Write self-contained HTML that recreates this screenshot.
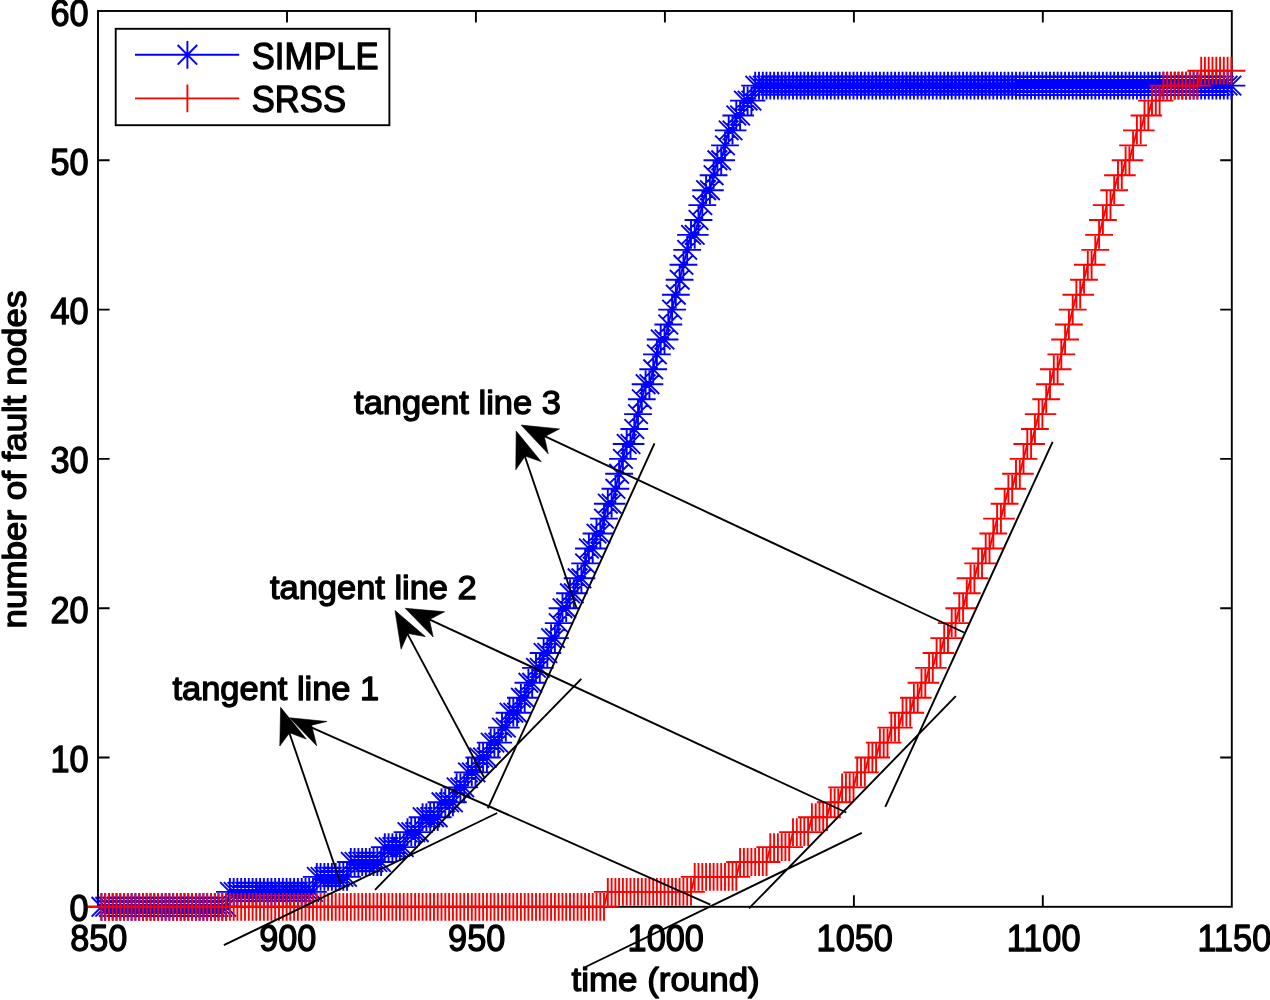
<!DOCTYPE html>
<html lang="en"><head><meta charset="utf-8"><title>number of fault nodes vs time (round)</title>
<style>html,body{margin:0;padding:0;background:#fff}body{width:1270px;height:1000px;overflow:hidden}svg{display:block}text{font-family:"Liberation Sans",sans-serif;font-size:36.6px;fill:#000;stroke:#000;stroke-width:1.3;stroke-linejoin:round}</style></head><body>
<svg width="1270" height="1000" viewBox="0 0 1270 1000">
<rect width="1270" height="1000" fill="#fff"/>
<g fill="none" stroke="#000" stroke-width="1.9">
<rect x="98" y="11" width="1133.8" height="895.8"/>
<path d="M287 11v11.6M475.9 11v11.6M664.9 11v11.6M853.9 11v11.6M853.9 906.8v-11.6M1042.8 11v11.6M1042.8 906.8v-11.6M98 757.5h11.6M1231.8 757.5h-11.6M98 608.2h11.6M1231.8 608.2h-11.6M98 458.9h11.6M1231.8 458.9h-11.6M98 309.6h11.6M1231.8 309.6h-11.6M98 160.3h11.6M1231.8 160.3h-11.6"/>
</g>
<g fill="none" stroke="#00f" stroke-width="1.9">
<path d="M101.4 906.8L226.1 906.8L229.9 891.9L313 891.9L316.8 876.9L347 876.9L350.8 862L381.1 862L384.8 847.1L403.7 847.1L407.5 832.1L418.8 832.1L422.6 817.2L437.7 817.2L441.5 802.3L452.9 802.3L456.6 787.4L464.2 787.4L468 772.4L475.5 772.4L479.3 757.5L486.9 757.5L490.7 742.6L498.2 742.6L502 727.6L505.8 727.6L509.5 712.7L517.1 712.7L520.9 697.8L524.7 697.8L528.4 682.8L532.2 682.8L536 667.9L539.8 667.9L543.6 653L547.3 653L551.1 638.1L554.9 638.1L558.7 623.1L562.5 608.2L566.2 608.2L570 593.3L573.8 593.3L577.6 578.3L581.4 578.3L585.1 563.4L588.9 548.5L592.7 548.5L596.5 533.5L600.3 533.5L604 518.6L607.8 503.7L611.6 503.7L615.4 488.8L619.1 473.8L622.9 458.9L626.7 444L630.5 444L634.3 429L638 414.1L641.8 399.2L645.6 384.2L649.4 384.2L653.2 369.3L656.9 354.4L660.7 339.5L664.5 339.5L668.3 324.5L672.1 309.6L675.8 294.7L679.6 279.7L683.4 264.8L687.2 249.9L691 234.9L694.7 234.9L698.5 220L702.3 205.1L706.1 190.2L709.9 190.2L713.6 175.2L717.4 160.3L721.2 160.3L725 145.4L728.7 130.4L732.5 130.4L736.3 115.5L740.1 115.5L743.9 100.6L751.4 100.6L755.2 85.6L1231.4 85.6"/>
<path d="M87.5 906.8h27.8M101.4 892.9v27.8M91.6 897l19.6 19.6M91.6 916.6l19.6 -19.6M91.3 906.8h27.8M105.2 892.9v27.8M95.4 897l19.6 19.6M95.4 916.6l19.6 -19.6M95 906.8h27.8M108.9 892.9v27.8M99.1 897l19.6 19.6M99.1 916.6l19.6 -19.6M98.8 906.8h27.8M112.7 892.9v27.8M102.9 897l19.6 19.6M102.9 916.6l19.6 -19.6M102.6 906.8h27.8M116.5 892.9v27.8M106.7 897l19.6 19.6M106.7 916.6l19.6 -19.6M106.4 906.8h27.8M120.3 892.9v27.8M110.5 897l19.6 19.6M110.5 916.6l19.6 -19.6M110.2 906.8h27.8M124.1 892.9v27.8M114.3 897l19.6 19.6M114.3 916.6l19.6 -19.6M113.9 906.8h27.8M127.8 892.9v27.8M118 897l19.6 19.6M118 916.6l19.6 -19.6M117.7 906.8h27.8M131.6 892.9v27.8M121.8 897l19.6 19.6M121.8 916.6l19.6 -19.6M121.5 906.8h27.8M135.4 892.9v27.8M125.6 897l19.6 19.6M125.6 916.6l19.6 -19.6M125.3 906.8h27.8M139.2 892.9v27.8M129.4 897l19.6 19.6M129.4 916.6l19.6 -19.6M129.1 906.8h27.8M143 892.9v27.8M133.2 897l19.6 19.6M133.2 916.6l19.6 -19.6M132.8 906.8h27.8M146.7 892.9v27.8M136.9 897l19.6 19.6M136.9 916.6l19.6 -19.6M136.6 906.8h27.8M150.5 892.9v27.8M140.7 897l19.6 19.6M140.7 916.6l19.6 -19.6M140.4 906.8h27.8M154.3 892.9v27.8M144.5 897l19.6 19.6M144.5 916.6l19.6 -19.6M144.2 906.8h27.8M158.1 892.9v27.8M148.3 897l19.6 19.6M148.3 916.6l19.6 -19.6M147.9 906.8h27.8M161.8 892.9v27.8M152 897l19.6 19.6M152 916.6l19.6 -19.6M151.7 906.8h27.8M165.6 892.9v27.8M155.8 897l19.6 19.6M155.8 916.6l19.6 -19.6M155.5 906.8h27.8M169.4 892.9v27.8M159.6 897l19.6 19.6M159.6 916.6l19.6 -19.6M159.3 906.8h27.8M173.2 892.9v27.8M163.4 897l19.6 19.6M163.4 916.6l19.6 -19.6M163.1 906.8h27.8M177 892.9v27.8M167.2 897l19.6 19.6M167.2 916.6l19.6 -19.6M166.8 906.8h27.8M180.7 892.9v27.8M170.9 897l19.6 19.6M170.9 916.6l19.6 -19.6M170.6 906.8h27.8M184.5 892.9v27.8M174.7 897l19.6 19.6M174.7 916.6l19.6 -19.6M174.4 906.8h27.8M188.3 892.9v27.8M178.5 897l19.6 19.6M178.5 916.6l19.6 -19.6M178.2 906.8h27.8M192.1 892.9v27.8M182.3 897l19.6 19.6M182.3 916.6l19.6 -19.6M182 906.8h27.8M195.9 892.9v27.8M186.1 897l19.6 19.6M186.1 916.6l19.6 -19.6M185.7 906.8h27.8M199.6 892.9v27.8M189.8 897l19.6 19.6M189.8 916.6l19.6 -19.6M189.5 906.8h27.8M203.4 892.9v27.8M193.6 897l19.6 19.6M193.6 916.6l19.6 -19.6M193.3 906.8h27.8M207.2 892.9v27.8M197.4 897l19.6 19.6M197.4 916.6l19.6 -19.6M197.1 906.8h27.8M211 892.9v27.8M201.2 897l19.6 19.6M201.2 916.6l19.6 -19.6M200.9 906.8h27.8M214.8 892.9v27.8M205 897l19.6 19.6M205 916.6l19.6 -19.6M204.6 906.8h27.8M218.5 892.9v27.8M208.7 897l19.6 19.6M208.7 916.6l19.6 -19.6M208.4 906.8h27.8M222.3 892.9v27.8M212.5 897l19.6 19.6M212.5 916.6l19.6 -19.6M212.2 906.8h27.8M226.1 892.9v27.8M216.3 897l19.6 19.6M216.3 916.6l19.6 -19.6M216 891.9h27.8M229.9 878v27.8M220.1 882.1l19.6 19.6M220.1 901.7l19.6 -19.6M219.8 891.9h27.8M233.7 878v27.8M223.9 882.1l19.6 19.6M223.9 901.7l19.6 -19.6M223.5 891.9h27.8M237.4 878v27.8M227.6 882.1l19.6 19.6M227.6 901.7l19.6 -19.6M227.3 891.9h27.8M241.2 878v27.8M231.4 882.1l19.6 19.6M231.4 901.7l19.6 -19.6M231.1 891.9h27.8M245 878v27.8M235.2 882.1l19.6 19.6M235.2 901.7l19.6 -19.6M234.9 891.9h27.8M248.8 878v27.8M239 882.1l19.6 19.6M239 901.7l19.6 -19.6M238.7 891.9h27.8M252.6 878v27.8M242.8 882.1l19.6 19.6M242.8 901.7l19.6 -19.6M242.4 891.9h27.8M256.3 878v27.8M246.5 882.1l19.6 19.6M246.5 901.7l19.6 -19.6M246.2 891.9h27.8M260.1 878v27.8M250.3 882.1l19.6 19.6M250.3 901.7l19.6 -19.6M250 891.9h27.8M263.9 878v27.8M254.1 882.1l19.6 19.6M254.1 901.7l19.6 -19.6M253.8 891.9h27.8M267.7 878v27.8M257.9 882.1l19.6 19.6M257.9 901.7l19.6 -19.6M257.5 891.9h27.8M271.4 878v27.8M261.6 882.1l19.6 19.6M261.6 901.7l19.6 -19.6M261.3 891.9h27.8M275.2 878v27.8M265.4 882.1l19.6 19.6M265.4 901.7l19.6 -19.6M265.1 891.9h27.8M279 878v27.8M269.2 882.1l19.6 19.6M269.2 901.7l19.6 -19.6M268.9 891.9h27.8M282.8 878v27.8M273 882.1l19.6 19.6M273 901.7l19.6 -19.6M272.7 891.9h27.8M286.6 878v27.8M276.8 882.1l19.6 19.6M276.8 901.7l19.6 -19.6M276.4 891.9h27.8M290.3 878v27.8M280.5 882.1l19.6 19.6M280.5 901.7l19.6 -19.6M280.2 891.9h27.8M294.1 878v27.8M284.3 882.1l19.6 19.6M284.3 901.7l19.6 -19.6M284 891.9h27.8M297.9 878v27.8M288.1 882.1l19.6 19.6M288.1 901.7l19.6 -19.6M287.8 891.9h27.8M301.7 878v27.8M291.9 882.1l19.6 19.6M291.9 901.7l19.6 -19.6M291.6 891.9h27.8M305.5 878v27.8M295.7 882.1l19.6 19.6M295.7 901.7l19.6 -19.6M295.3 891.9h27.8M309.2 878v27.8M299.4 882.1l19.6 19.6M299.4 901.7l19.6 -19.6M299.1 891.9h27.8M313 878v27.8M303.2 882.1l19.6 19.6M303.2 901.7l19.6 -19.6M302.9 876.9h27.8M316.8 863v27.8M307 867.1l19.6 19.6M307 886.7l19.6 -19.6M306.7 876.9h27.8M320.6 863v27.8M310.8 867.1l19.6 19.6M310.8 886.7l19.6 -19.6M310.5 876.9h27.8M324.4 863v27.8M314.6 867.1l19.6 19.6M314.6 886.7l19.6 -19.6M314.2 876.9h27.8M328.1 863v27.8M318.3 867.1l19.6 19.6M318.3 886.7l19.6 -19.6M318 876.9h27.8M331.9 863v27.8M322.1 867.1l19.6 19.6M322.1 886.7l19.6 -19.6M321.8 876.9h27.8M335.7 863v27.8M325.9 867.1l19.6 19.6M325.9 886.7l19.6 -19.6M325.6 876.9h27.8M339.5 863v27.8M329.7 867.1l19.6 19.6M329.7 886.7l19.6 -19.6M329.4 876.9h27.8M343.3 863v27.8M333.5 867.1l19.6 19.6M333.5 886.7l19.6 -19.6M333.1 876.9h27.8M347 863v27.8M337.2 867.1l19.6 19.6M337.2 886.7l19.6 -19.6M336.9 862h27.8M350.8 848.1v27.8M341 852.2l19.6 19.6M341 871.8l19.6 -19.6M340.7 862h27.8M354.6 848.1v27.8M344.8 852.2l19.6 19.6M344.8 871.8l19.6 -19.6M344.5 862h27.8M358.4 848.1v27.8M348.6 852.2l19.6 19.6M348.6 871.8l19.6 -19.6M348.3 862h27.8M362.2 848.1v27.8M352.4 852.2l19.6 19.6M352.4 871.8l19.6 -19.6M352 862h27.8M365.9 848.1v27.8M356.1 852.2l19.6 19.6M356.1 871.8l19.6 -19.6M355.8 862h27.8M369.7 848.1v27.8M359.9 852.2l19.6 19.6M359.9 871.8l19.6 -19.6M359.6 862h27.8M373.5 848.1v27.8M363.7 852.2l19.6 19.6M363.7 871.8l19.6 -19.6M363.4 862h27.8M377.3 848.1v27.8M367.5 852.2l19.6 19.6M367.5 871.8l19.6 -19.6M367.2 862h27.8M381.1 848.1v27.8M371.2 852.2l19.6 19.6M371.2 871.8l19.6 -19.6M370.9 847.1h27.8M384.8 833.2v27.8M375 837.3l19.6 19.6M375 856.9l19.6 -19.6M374.7 847.1h27.8M388.6 833.2v27.8M378.8 837.3l19.6 19.6M378.8 856.9l19.6 -19.6M378.5 847.1h27.8M392.4 833.2v27.8M382.6 837.3l19.6 19.6M382.6 856.9l19.6 -19.6M382.3 847.1h27.8M396.2 833.2v27.8M386.4 837.3l19.6 19.6M386.4 856.9l19.6 -19.6M386 847.1h27.8M399.9 833.2v27.8M390.1 837.3l19.6 19.6M390.1 856.9l19.6 -19.6M389.8 847.1h27.8M403.7 833.2v27.8M393.9 837.3l19.6 19.6M393.9 856.9l19.6 -19.6M393.6 832.1h27.8M407.5 818.2v27.8M397.7 822.4l19.6 19.6M397.7 841.9l19.6 -19.6M397.4 832.1h27.8M411.3 818.2v27.8M401.5 822.4l19.6 19.6M401.5 841.9l19.6 -19.6M401.2 832.1h27.8M415.1 818.2v27.8M405.3 822.4l19.6 19.6M405.3 841.9l19.6 -19.6M404.9 832.1h27.8M418.8 818.2v27.8M409 822.4l19.6 19.6M409 841.9l19.6 -19.6M408.7 817.2h27.8M422.6 803.3v27.8M412.8 807.4l19.6 19.6M412.8 827l19.6 -19.6M412.5 817.2h27.8M426.4 803.3v27.8M416.6 807.4l19.6 19.6M416.6 827l19.6 -19.6M416.3 817.2h27.8M430.2 803.3v27.8M420.4 807.4l19.6 19.6M420.4 827l19.6 -19.6M420.1 817.2h27.8M434 803.3v27.8M424.2 807.4l19.6 19.6M424.2 827l19.6 -19.6M423.8 817.2h27.8M437.7 803.3v27.8M427.9 807.4l19.6 19.6M427.9 827l19.6 -19.6M427.6 802.3h27.8M441.5 788.4v27.8M431.7 792.5l19.6 19.6M431.7 812.1l19.6 -19.6M431.4 802.3h27.8M445.3 788.4v27.8M435.5 792.5l19.6 19.6M435.5 812.1l19.6 -19.6M435.2 802.3h27.8M449.1 788.4v27.8M439.3 792.5l19.6 19.6M439.3 812.1l19.6 -19.6M439 802.3h27.8M452.9 788.4v27.8M443.1 792.5l19.6 19.6M443.1 812.1l19.6 -19.6M442.7 787.4h27.8M456.6 773.5v27.8M446.8 777.6l19.6 19.6M446.8 797.2l19.6 -19.6M446.5 787.4h27.8M460.4 773.5v27.8M450.6 777.6l19.6 19.6M450.6 797.2l19.6 -19.6M450.3 787.4h27.8M464.2 773.5v27.8M454.4 777.6l19.6 19.6M454.4 797.2l19.6 -19.6M454.1 772.4h27.8M468 758.5v27.8M458.2 762.6l19.6 19.6M458.2 782.2l19.6 -19.6M457.9 772.4h27.8M471.8 758.5v27.8M462 762.6l19.6 19.6M462 782.2l19.6 -19.6M461.6 772.4h27.8M475.5 758.5v27.8M465.7 762.6l19.6 19.6M465.7 782.2l19.6 -19.6M465.4 757.5h27.8M479.3 743.6v27.8M469.5 747.7l19.6 19.6M469.5 767.3l19.6 -19.6M469.2 757.5h27.8M483.1 743.6v27.8M473.3 747.7l19.6 19.6M473.3 767.3l19.6 -19.6M473 757.5h27.8M486.9 743.6v27.8M477.1 747.7l19.6 19.6M477.1 767.3l19.6 -19.6M476.8 742.6h27.8M490.7 728.7v27.8M480.9 732.8l19.6 19.6M480.9 752.4l19.6 -19.6M480.5 742.6h27.8M494.4 728.7v27.8M484.6 732.8l19.6 19.6M484.6 752.4l19.6 -19.6M484.3 742.6h27.8M498.2 728.7v27.8M488.4 732.8l19.6 19.6M488.4 752.4l19.6 -19.6M488.1 727.6h27.8M502 713.7v27.8M492.2 717.8l19.6 19.6M492.2 737.4l19.6 -19.6M491.9 727.6h27.8M505.8 713.7v27.8M496 717.8l19.6 19.6M496 737.4l19.6 -19.6M495.6 712.7h27.8M509.5 698.8v27.8M499.7 702.9l19.6 19.6M499.7 722.5l19.6 -19.6M499.4 712.7h27.8M513.3 698.8v27.8M503.5 702.9l19.6 19.6M503.5 722.5l19.6 -19.6M503.2 712.7h27.8M517.1 698.8v27.8M507.3 702.9l19.6 19.6M507.3 722.5l19.6 -19.6M507 697.8h27.8M520.9 683.9v27.8M511.1 688l19.6 19.6M511.1 707.6l19.6 -19.6M510.8 697.8h27.8M524.7 683.9v27.8M514.9 688l19.6 19.6M514.9 707.6l19.6 -19.6M514.5 682.8h27.8M528.4 668.9v27.8M518.6 673l19.6 19.6M518.6 692.6l19.6 -19.6M518.3 682.8h27.8M532.2 668.9v27.8M522.4 673l19.6 19.6M522.4 692.6l19.6 -19.6M522.1 667.9h27.8M536 654v27.8M526.2 658.1l19.6 19.6M526.2 677.7l19.6 -19.6M525.9 667.9h27.8M539.8 654v27.8M530 658.1l19.6 19.6M530 677.7l19.6 -19.6M529.7 653h27.8M543.6 639.1v27.8M533.8 643.2l19.6 19.6M533.8 662.8l19.6 -19.6M533.4 653h27.8M547.3 639.1v27.8M537.5 643.2l19.6 19.6M537.5 662.8l19.6 -19.6M537.2 638.1h27.8M551.1 624.2v27.8M541.3 628.3l19.6 19.6M541.3 647.9l19.6 -19.6M541 638.1h27.8M554.9 624.2v27.8M545.1 628.3l19.6 19.6M545.1 647.9l19.6 -19.6M544.8 623.1h27.8M558.7 609.2v27.8M548.9 613.3l19.6 19.6M548.9 632.9l19.6 -19.6M548.6 608.2h27.8M562.5 594.3v27.8M552.7 598.4l19.6 19.6M552.7 618l19.6 -19.6M552.3 608.2h27.8M566.2 594.3v27.8M556.4 598.4l19.6 19.6M556.4 618l19.6 -19.6M556.1 593.3h27.8M570 579.4v27.8M560.2 583.5l19.6 19.6M560.2 603.1l19.6 -19.6M559.9 593.3h27.8M573.8 579.4v27.8M564 583.5l19.6 19.6M564 603.1l19.6 -19.6M563.7 578.3h27.8M577.6 564.4v27.8M567.8 568.5l19.6 19.6M567.8 588.1l19.6 -19.6M567.5 578.3h27.8M581.4 564.4v27.8M571.6 568.5l19.6 19.6M571.6 588.1l19.6 -19.6M571.2 563.4h27.8M585.1 549.5v27.8M575.3 553.6l19.6 19.6M575.3 573.2l19.6 -19.6M575 548.5h27.8M588.9 534.6v27.8M579.1 538.7l19.6 19.6M579.1 558.3l19.6 -19.6M578.8 548.5h27.8M592.7 534.6v27.8M582.9 538.7l19.6 19.6M582.9 558.3l19.6 -19.6M582.6 533.5h27.8M596.5 519.6v27.8M586.7 523.8l19.6 19.6M586.7 543.3l19.6 -19.6M586.4 533.5h27.8M600.3 519.6v27.8M590.5 523.8l19.6 19.6M590.5 543.3l19.6 -19.6M590.1 518.6h27.8M604 504.7v27.8M594.2 508.8l19.6 19.6M594.2 528.4l19.6 -19.6M593.9 503.7h27.8M607.8 489.8v27.8M598 493.9l19.6 19.6M598 513.5l19.6 -19.6M597.7 503.7h27.8M611.6 489.8v27.8M601.8 493.9l19.6 19.6M601.8 513.5l19.6 -19.6M601.5 488.8h27.8M615.4 474.9v27.8M605.6 479l19.6 19.6M605.6 498.6l19.6 -19.6M605.2 473.8h27.8M619.1 459.9v27.8M609.3 464l19.6 19.6M609.3 483.6l19.6 -19.6M609 458.9h27.8M622.9 445v27.8M613.1 449.1l19.6 19.6M613.1 468.7l19.6 -19.6M612.8 444h27.8M626.7 430.1v27.8M616.9 434.2l19.6 19.6M616.9 453.8l19.6 -19.6M616.6 444h27.8M630.5 430.1v27.8M620.7 434.2l19.6 19.6M620.7 453.8l19.6 -19.6M620.4 429h27.8M634.3 415.1v27.8M624.5 419.2l19.6 19.6M624.5 438.8l19.6 -19.6M624.1 414.1h27.8M638 400.2v27.8M628.2 404.3l19.6 19.6M628.2 423.9l19.6 -19.6M627.9 399.2h27.8M641.8 385.3v27.8M632 389.4l19.6 19.6M632 409l19.6 -19.6M631.7 384.2h27.8M645.6 370.4v27.8M635.8 374.4l19.6 19.6M635.8 394.1l19.6 -19.6M635.5 384.2h27.8M649.4 370.4v27.8M639.6 374.4l19.6 19.6M639.6 394.1l19.6 -19.6M639.3 369.3h27.8M653.2 355.4v27.8M643.4 359.5l19.6 19.6M643.4 379.1l19.6 -19.6M643 354.4h27.8M656.9 340.5v27.8M647.1 344.6l19.6 19.6M647.1 364.2l19.6 -19.6M646.8 339.5h27.8M660.7 325.6v27.8M650.9 329.7l19.6 19.6M650.9 349.3l19.6 -19.6M650.6 339.5h27.8M664.5 325.6v27.8M654.7 329.7l19.6 19.6M654.7 349.3l19.6 -19.6M654.4 324.5h27.8M668.3 310.6v27.8M658.5 314.7l19.6 19.6M658.5 334.3l19.6 -19.6M658.2 309.6h27.8M672.1 295.7v27.8M662.3 299.8l19.6 19.6M662.3 319.4l19.6 -19.6M661.9 294.7h27.8M675.8 280.8v27.8M666 284.9l19.6 19.6M666 304.5l19.6 -19.6M665.7 279.7h27.8M679.6 265.8v27.8M669.8 269.9l19.6 19.6M669.8 289.5l19.6 -19.6M669.5 264.8h27.8M683.4 250.9v27.8M673.6 255l19.6 19.6M673.6 274.6l19.6 -19.6M673.3 249.9h27.8M687.2 236v27.8M677.4 240.1l19.6 19.6M677.4 259.7l19.6 -19.6M677.1 234.9h27.8M691 221v27.8M681.2 225.1l19.6 19.6M681.2 244.7l19.6 -19.6M680.8 234.9h27.8M694.7 221v27.8M684.9 225.1l19.6 19.6M684.9 244.7l19.6 -19.6M684.6 220h27.8M698.5 206.1v27.8M688.7 210.2l19.6 19.6M688.7 229.8l19.6 -19.6M688.4 205.1h27.8M702.3 191.2v27.8M692.5 195.3l19.6 19.6M692.5 214.9l19.6 -19.6M692.2 190.2h27.8M706.1 176.3v27.8M696.3 180.4l19.6 19.6M696.3 200l19.6 -19.6M696 190.2h27.8M709.9 176.3v27.8M700.1 180.4l19.6 19.6M700.1 200l19.6 -19.6M699.7 175.2h27.8M713.6 161.3v27.8M703.8 165.4l19.6 19.6M703.8 185l19.6 -19.6M703.5 160.3h27.8M717.4 146.4v27.8M707.6 150.5l19.6 19.6M707.6 170.1l19.6 -19.6M707.3 160.3h27.8M721.2 146.4v27.8M711.4 150.5l19.6 19.6M711.4 170.1l19.6 -19.6M711.1 145.4h27.8M725 131.5v27.8M715.2 135.6l19.6 19.6M715.2 155.2l19.6 -19.6M714.8 130.4h27.8M728.7 116.5v27.8M718.9 120.6l19.6 19.6M718.9 140.2l19.6 -19.6M718.6 130.4h27.8M732.5 116.5v27.8M722.7 120.6l19.6 19.6M722.7 140.2l19.6 -19.6M722.4 115.5h27.8M736.3 101.6v27.8M726.5 105.7l19.6 19.6M726.5 125.3l19.6 -19.6M726.2 115.5h27.8M740.1 101.6v27.8M730.3 105.7l19.6 19.6M730.3 125.3l19.6 -19.6M730 100.6h27.8M743.9 86.7v27.8M734.1 90.8l19.6 19.6M734.1 110.4l19.6 -19.6M733.7 100.6h27.8M747.6 86.7v27.8M737.8 90.8l19.6 19.6M737.8 110.4l19.6 -19.6M737.5 100.6h27.8M751.4 86.7v27.8M741.6 90.8l19.6 19.6M741.6 110.4l19.6 -19.6M741.3 85.6h27.8M755.2 71.7v27.8M745.4 75.8l19.6 19.6M745.4 95.4l19.6 -19.6M745.1 85.6h27.8M759 71.7v27.8M749.2 75.8l19.6 19.6M749.2 95.4l19.6 -19.6M748.9 85.6h27.8M762.8 71.7v27.8M753 75.8l19.6 19.6M753 95.4l19.6 -19.6M752.6 85.6h27.8M766.5 71.7v27.8M756.7 75.8l19.6 19.6M756.7 95.4l19.6 -19.6M756.4 85.6h27.8M770.3 71.7v27.8M760.5 75.8l19.6 19.6M760.5 95.4l19.6 -19.6M760.2 85.6h27.8M774.1 71.7v27.8M764.3 75.8l19.6 19.6M764.3 95.4l19.6 -19.6M764 85.6h27.8M777.9 71.7v27.8M768.1 75.8l19.6 19.6M768.1 95.4l19.6 -19.6M767.8 85.6h27.8M781.7 71.7v27.8M771.9 75.8l19.6 19.6M771.9 95.4l19.6 -19.6M771.5 85.6h27.8M785.4 71.7v27.8M775.6 75.8l19.6 19.6M775.6 95.4l19.6 -19.6M775.3 85.6h27.8M789.2 71.7v27.8M779.4 75.8l19.6 19.6M779.4 95.4l19.6 -19.6M779.1 85.6h27.8M793 71.7v27.8M783.2 75.8l19.6 19.6M783.2 95.4l19.6 -19.6M782.9 85.6h27.8M796.8 71.7v27.8M787 75.8l19.6 19.6M787 95.4l19.6 -19.6M786.7 85.6h27.8M800.6 71.7v27.8M790.8 75.8l19.6 19.6M790.8 95.4l19.6 -19.6M790.4 85.6h27.8M804.3 71.7v27.8M794.5 75.8l19.6 19.6M794.5 95.4l19.6 -19.6M794.2 85.6h27.8M808.1 71.7v27.8M798.3 75.8l19.6 19.6M798.3 95.4l19.6 -19.6M798 85.6h27.8M811.9 71.7v27.8M802.1 75.8l19.6 19.6M802.1 95.4l19.6 -19.6M801.8 85.6h27.8M815.7 71.7v27.8M805.9 75.8l19.6 19.6M805.9 95.4l19.6 -19.6M805.6 85.6h27.8M819.5 71.7v27.8M809.7 75.8l19.6 19.6M809.7 95.4l19.6 -19.6M809.3 85.6h27.8M823.2 71.7v27.8M813.4 75.8l19.6 19.6M813.4 95.4l19.6 -19.6M813.1 85.6h27.8M827 71.7v27.8M817.2 75.8l19.6 19.6M817.2 95.4l19.6 -19.6M816.9 85.6h27.8M830.8 71.7v27.8M821 75.8l19.6 19.6M821 95.4l19.6 -19.6M820.7 85.6h27.8M834.6 71.7v27.8M824.8 75.8l19.6 19.6M824.8 95.4l19.6 -19.6M824.4 85.6h27.8M838.3 71.7v27.8M828.5 75.8l19.6 19.6M828.5 95.4l19.6 -19.6M828.2 85.6h27.8M842.1 71.7v27.8M832.3 75.8l19.6 19.6M832.3 95.4l19.6 -19.6M832 85.6h27.8M845.9 71.7v27.8M836.1 75.8l19.6 19.6M836.1 95.4l19.6 -19.6M835.8 85.6h27.8M849.7 71.7v27.8M839.9 75.8l19.6 19.6M839.9 95.4l19.6 -19.6M839.6 85.6h27.8M853.5 71.7v27.8M843.7 75.8l19.6 19.6M843.7 95.4l19.6 -19.6M843.3 85.6h27.8M857.2 71.7v27.8M847.4 75.8l19.6 19.6M847.4 95.4l19.6 -19.6M847.1 85.6h27.8M861 71.7v27.8M851.2 75.8l19.6 19.6M851.2 95.4l19.6 -19.6M850.9 85.6h27.8M864.8 71.7v27.8M855 75.8l19.6 19.6M855 95.4l19.6 -19.6M854.7 85.6h27.8M868.6 71.7v27.8M858.8 75.8l19.6 19.6M858.8 95.4l19.6 -19.6M858.5 85.6h27.8M872.4 71.7v27.8M862.6 75.8l19.6 19.6M862.6 95.4l19.6 -19.6M862.2 85.6h27.8M876.1 71.7v27.8M866.3 75.8l19.6 19.6M866.3 95.4l19.6 -19.6M866 85.6h27.8M879.9 71.7v27.8M870.1 75.8l19.6 19.6M870.1 95.4l19.6 -19.6M869.8 85.6h27.8M883.7 71.7v27.8M873.9 75.8l19.6 19.6M873.9 95.4l19.6 -19.6M873.6 85.6h27.8M887.5 71.7v27.8M877.7 75.8l19.6 19.6M877.7 95.4l19.6 -19.6M877.4 85.6h27.8M891.3 71.7v27.8M881.5 75.8l19.6 19.6M881.5 95.4l19.6 -19.6M881.1 85.6h27.8M895 71.7v27.8M885.2 75.8l19.6 19.6M885.2 95.4l19.6 -19.6M884.9 85.6h27.8M898.8 71.7v27.8M889 75.8l19.6 19.6M889 95.4l19.6 -19.6M888.7 85.6h27.8M902.6 71.7v27.8M892.8 75.8l19.6 19.6M892.8 95.4l19.6 -19.6M892.5 85.6h27.8M906.4 71.7v27.8M896.6 75.8l19.6 19.6M896.6 95.4l19.6 -19.6M896.3 85.6h27.8M910.2 71.7v27.8M900.4 75.8l19.6 19.6M900.4 95.4l19.6 -19.6M900 85.6h27.8M913.9 71.7v27.8M904.1 75.8l19.6 19.6M904.1 95.4l19.6 -19.6M903.8 85.6h27.8M917.7 71.7v27.8M907.9 75.8l19.6 19.6M907.9 95.4l19.6 -19.6M907.6 85.6h27.8M921.5 71.7v27.8M911.7 75.8l19.6 19.6M911.7 95.4l19.6 -19.6M911.4 85.6h27.8M925.3 71.7v27.8M915.5 75.8l19.6 19.6M915.5 95.4l19.6 -19.6M915.2 85.6h27.8M929.1 71.7v27.8M919.3 75.8l19.6 19.6M919.3 95.4l19.6 -19.6M918.9 85.6h27.8M932.8 71.7v27.8M923 75.8l19.6 19.6M923 95.4l19.6 -19.6M922.7 85.6h27.8M936.6 71.7v27.8M926.8 75.8l19.6 19.6M926.8 95.4l19.6 -19.6M926.5 85.6h27.8M940.4 71.7v27.8M930.6 75.8l19.6 19.6M930.6 95.4l19.6 -19.6M930.3 85.6h27.8M944.2 71.7v27.8M934.4 75.8l19.6 19.6M934.4 95.4l19.6 -19.6M934.1 85.6h27.8M948 71.7v27.8M938.2 75.8l19.6 19.6M938.2 95.4l19.6 -19.6M937.8 85.6h27.8M951.7 71.7v27.8M941.9 75.8l19.6 19.6M941.9 95.4l19.6 -19.6M941.6 85.6h27.8M955.5 71.7v27.8M945.7 75.8l19.6 19.6M945.7 95.4l19.6 -19.6M945.4 85.6h27.8M959.3 71.7v27.8M949.5 75.8l19.6 19.6M949.5 95.4l19.6 -19.6M949.2 85.6h27.8M963.1 71.7v27.8M953.3 75.8l19.6 19.6M953.3 95.4l19.6 -19.6M952.9 85.6h27.8M966.8 71.7v27.8M957 75.8l19.6 19.6M957 95.4l19.6 -19.6M956.7 85.6h27.8M970.6 71.7v27.8M960.8 75.8l19.6 19.6M960.8 95.4l19.6 -19.6M960.5 85.6h27.8M974.4 71.7v27.8M964.6 75.8l19.6 19.6M964.6 95.4l19.6 -19.6M964.3 85.6h27.8M978.2 71.7v27.8M968.4 75.8l19.6 19.6M968.4 95.4l19.6 -19.6M968.1 85.6h27.8M982 71.7v27.8M972.2 75.8l19.6 19.6M972.2 95.4l19.6 -19.6M971.8 85.6h27.8M985.7 71.7v27.8M975.9 75.8l19.6 19.6M975.9 95.4l19.6 -19.6M975.6 85.6h27.8M989.5 71.7v27.8M979.7 75.8l19.6 19.6M979.7 95.4l19.6 -19.6M979.4 85.6h27.8M993.3 71.7v27.8M983.5 75.8l19.6 19.6M983.5 95.4l19.6 -19.6M983.2 85.6h27.8M997.1 71.7v27.8M987.3 75.8l19.6 19.6M987.3 95.4l19.6 -19.6M987 85.6h27.8M1000.9 71.7v27.8M991.1 75.8l19.6 19.6M991.1 95.4l19.6 -19.6M990.7 85.6h27.8M1004.6 71.7v27.8M994.8 75.8l19.6 19.6M994.8 95.4l19.6 -19.6M994.5 85.6h27.8M1008.4 71.7v27.8M998.6 75.8l19.6 19.6M998.6 95.4l19.6 -19.6M998.3 85.6h27.8M1012.2 71.7v27.8M1002.4 75.8l19.6 19.6M1002.4 95.4l19.6 -19.6M1002.1 85.6h27.8M1016 71.7v27.8M1006.2 75.8l19.6 19.6M1006.2 95.4l19.6 -19.6M1005.9 85.6h27.8M1019.8 71.7v27.8M1010 75.8l19.6 19.6M1010 95.4l19.6 -19.6M1009.6 85.6h27.8M1023.5 71.7v27.8M1013.7 75.8l19.6 19.6M1013.7 95.4l19.6 -19.6M1013.4 85.6h27.8M1027.3 71.7v27.8M1017.5 75.8l19.6 19.6M1017.5 95.4l19.6 -19.6M1017.2 85.6h27.8M1031.1 71.7v27.8M1021.3 75.8l19.6 19.6M1021.3 95.4l19.6 -19.6M1021 85.6h27.8M1034.9 71.7v27.8M1025.1 75.8l19.6 19.6M1025.1 95.4l19.6 -19.6M1024.8 85.6h27.8M1038.7 71.7v27.8M1028.9 75.8l19.6 19.6M1028.9 95.4l19.6 -19.6M1028.5 85.6h27.8M1042.4 71.7v27.8M1032.6 75.8l19.6 19.6M1032.6 95.4l19.6 -19.6M1032.3 85.6h27.8M1046.2 71.7v27.8M1036.4 75.8l19.6 19.6M1036.4 95.4l19.6 -19.6M1036.1 85.6h27.8M1050 71.7v27.8M1040.2 75.8l19.6 19.6M1040.2 95.4l19.6 -19.6M1039.9 85.6h27.8M1053.8 71.7v27.8M1044 75.8l19.6 19.6M1044 95.4l19.6 -19.6M1043.7 85.6h27.8M1057.6 71.7v27.8M1047.8 75.8l19.6 19.6M1047.8 95.4l19.6 -19.6M1047.4 85.6h27.8M1061.3 71.7v27.8M1051.5 75.8l19.6 19.6M1051.5 95.4l19.6 -19.6M1051.2 85.6h27.8M1065.1 71.7v27.8M1055.3 75.8l19.6 19.6M1055.3 95.4l19.6 -19.6M1055 85.6h27.8M1068.9 71.7v27.8M1059.1 75.8l19.6 19.6M1059.1 95.4l19.6 -19.6M1058.8 85.6h27.8M1072.7 71.7v27.8M1062.9 75.8l19.6 19.6M1062.9 95.4l19.6 -19.6M1062.5 85.6h27.8M1076.4 71.7v27.8M1066.6 75.8l19.6 19.6M1066.6 95.4l19.6 -19.6M1066.3 85.6h27.8M1080.2 71.7v27.8M1070.4 75.8l19.6 19.6M1070.4 95.4l19.6 -19.6M1070.1 85.6h27.8M1084 71.7v27.8M1074.2 75.8l19.6 19.6M1074.2 95.4l19.6 -19.6M1073.9 85.6h27.8M1087.8 71.7v27.8M1078 75.8l19.6 19.6M1078 95.4l19.6 -19.6M1077.7 85.6h27.8M1091.6 71.7v27.8M1081.8 75.8l19.6 19.6M1081.8 95.4l19.6 -19.6M1081.4 85.6h27.8M1095.3 71.7v27.8M1085.5 75.8l19.6 19.6M1085.5 95.4l19.6 -19.6M1085.2 85.6h27.8M1099.1 71.7v27.8M1089.3 75.8l19.6 19.6M1089.3 95.4l19.6 -19.6M1089 85.6h27.8M1102.9 71.7v27.8M1093.1 75.8l19.6 19.6M1093.1 95.4l19.6 -19.6M1092.8 85.6h27.8M1106.7 71.7v27.8M1096.9 75.8l19.6 19.6M1096.9 95.4l19.6 -19.6M1096.6 85.6h27.8M1110.5 71.7v27.8M1100.7 75.8l19.6 19.6M1100.7 95.4l19.6 -19.6M1100.3 85.6h27.8M1114.2 71.7v27.8M1104.4 75.8l19.6 19.6M1104.4 95.4l19.6 -19.6M1104.1 85.6h27.8M1118 71.7v27.8M1108.2 75.8l19.6 19.6M1108.2 95.4l19.6 -19.6M1107.9 85.6h27.8M1121.8 71.7v27.8M1112 75.8l19.6 19.6M1112 95.4l19.6 -19.6M1111.7 85.6h27.8M1125.6 71.7v27.8M1115.8 75.8l19.6 19.6M1115.8 95.4l19.6 -19.6M1115.5 85.6h27.8M1129.4 71.7v27.8M1119.6 75.8l19.6 19.6M1119.6 95.4l19.6 -19.6M1119.2 85.6h27.8M1133.1 71.7v27.8M1123.3 75.8l19.6 19.6M1123.3 95.4l19.6 -19.6M1123 85.6h27.8M1136.9 71.7v27.8M1127.1 75.8l19.6 19.6M1127.1 95.4l19.6 -19.6M1126.8 85.6h27.8M1140.7 71.7v27.8M1130.9 75.8l19.6 19.6M1130.9 95.4l19.6 -19.6M1130.6 85.6h27.8M1144.5 71.7v27.8M1134.7 75.8l19.6 19.6M1134.7 95.4l19.6 -19.6M1134.4 85.6h27.8M1148.3 71.7v27.8M1138.5 75.8l19.6 19.6M1138.5 95.4l19.6 -19.6M1138.1 85.6h27.8M1152 71.7v27.8M1142.2 75.8l19.6 19.6M1142.2 95.4l19.6 -19.6M1141.9 85.6h27.8M1155.8 71.7v27.8M1146 75.8l19.6 19.6M1146 95.4l19.6 -19.6M1145.7 85.6h27.8M1159.6 71.7v27.8M1149.8 75.8l19.6 19.6M1149.8 95.4l19.6 -19.6M1149.5 85.6h27.8M1163.4 71.7v27.8M1153.6 75.8l19.6 19.6M1153.6 95.4l19.6 -19.6M1153.3 85.6h27.8M1167.2 71.7v27.8M1157.4 75.8l19.6 19.6M1157.4 95.4l19.6 -19.6M1157 85.6h27.8M1170.9 71.7v27.8M1161.1 75.8l19.6 19.6M1161.1 95.4l19.6 -19.6M1160.8 85.6h27.8M1174.7 71.7v27.8M1164.9 75.8l19.6 19.6M1164.9 95.4l19.6 -19.6M1164.6 85.6h27.8M1178.5 71.7v27.8M1168.7 75.8l19.6 19.6M1168.7 95.4l19.6 -19.6M1168.4 85.6h27.8M1182.3 71.7v27.8M1172.5 75.8l19.6 19.6M1172.5 95.4l19.6 -19.6M1172.1 85.6h27.8M1186 71.7v27.8M1176.2 75.8l19.6 19.6M1176.2 95.4l19.6 -19.6M1175.9 85.6h27.8M1189.8 71.7v27.8M1180 75.8l19.6 19.6M1180 95.4l19.6 -19.6M1179.7 85.6h27.8M1193.6 71.7v27.8M1183.8 75.8l19.6 19.6M1183.8 95.4l19.6 -19.6M1183.5 85.6h27.8M1197.4 71.7v27.8M1187.6 75.8l19.6 19.6M1187.6 95.4l19.6 -19.6M1187.3 85.6h27.8M1201.2 71.7v27.8M1191.4 75.8l19.6 19.6M1191.4 95.4l19.6 -19.6M1191 85.6h27.8M1204.9 71.7v27.8M1195.1 75.8l19.6 19.6M1195.1 95.4l19.6 -19.6M1194.8 85.6h27.8M1208.7 71.7v27.8M1198.9 75.8l19.6 19.6M1198.9 95.4l19.6 -19.6M1198.6 85.6h27.8M1212.5 71.7v27.8M1202.7 75.8l19.6 19.6M1202.7 95.4l19.6 -19.6M1202.4 85.6h27.8M1216.3 71.7v27.8M1206.5 75.8l19.6 19.6M1206.5 95.4l19.6 -19.6M1206.2 85.6h27.8M1220.1 71.7v27.8M1210.3 75.8l19.6 19.6M1210.3 95.4l19.6 -19.6M1209.9 85.6h27.8M1223.8 71.7v27.8M1214 75.8l19.6 19.6M1214 95.4l19.6 -19.6M1213.7 85.6h27.8M1227.6 71.7v27.8M1217.8 75.8l19.6 19.6M1217.8 95.4l19.6 -19.6M1217.5 85.6h27.8M1231.4 71.7v27.8M1221.6 75.8l19.6 19.6M1221.6 95.4l19.6 -19.6"/>
</g>
<g fill="none" stroke="#f00" stroke-width="1.9">
<path d="M101.4 906.8L604 906.8L607.8 891.9L691 891.9L694.7 876.9L736.3 876.9L740.1 862L766.5 862L770.3 847.1L789.2 847.1L793 832.1L808.1 832.1L811.9 817.2L827 817.2L830.8 802.3L838.3 802.3L842.1 787.4L853.5 787.4L857.2 772.4L864.8 772.4L868.6 757.5L876.1 757.5L879.9 742.6L887.5 742.6L891.3 727.6L898.8 727.6L902.6 712.7L910.2 712.7L913.9 697.8L917.7 697.8L921.5 682.8L925.3 682.8L929.1 667.9L932.8 667.9L936.6 653L940.4 653L944.2 638.1L948 638.1L951.7 623.1L955.5 623.1L959.3 608.2L963.1 608.2L966.8 593.3L970.6 578.3L974.4 578.3L978.2 563.4L982 563.4L985.7 548.5L989.5 548.5L993.3 533.5L997.1 518.6L1000.9 518.6L1004.6 503.7L1008.4 488.8L1012.2 488.8L1016 473.8L1019.8 473.8L1023.5 458.9L1027.3 444L1031.1 444L1034.9 429L1038.7 414.1L1042.4 414.1L1046.2 399.2L1050 384.2L1053.8 369.3L1057.6 369.3L1061.3 354.4L1065.1 339.5L1068.9 324.5L1072.7 309.6L1076.4 294.7L1080.2 294.7L1084 279.7L1087.8 264.8L1091.6 264.8L1095.3 249.9L1099.1 234.9L1102.9 220L1106.7 205.1L1110.5 205.1L1114.2 190.2L1118 175.2L1121.8 175.2L1125.6 160.3L1129.4 160.3L1133.1 145.4L1136.9 130.4L1140.7 130.4L1144.5 115.5L1148.3 115.5L1152 100.6L1159.6 100.6L1163.4 85.6L1197.4 85.6L1201.2 70.7L1231.4 70.7"/>
<path d="M87.5 906.8h27.8M101.4 892.9v27.8M91.3 906.8h27.8M105.2 892.9v27.8M95 906.8h27.8M108.9 892.9v27.8M98.8 906.8h27.8M112.7 892.9v27.8M102.6 906.8h27.8M116.5 892.9v27.8M106.4 906.8h27.8M120.3 892.9v27.8M110.2 906.8h27.8M124.1 892.9v27.8M113.9 906.8h27.8M127.8 892.9v27.8M117.7 906.8h27.8M131.6 892.9v27.8M121.5 906.8h27.8M135.4 892.9v27.8M125.3 906.8h27.8M139.2 892.9v27.8M129.1 906.8h27.8M143 892.9v27.8M132.8 906.8h27.8M146.7 892.9v27.8M136.6 906.8h27.8M150.5 892.9v27.8M140.4 906.8h27.8M154.3 892.9v27.8M144.2 906.8h27.8M158.1 892.9v27.8M147.9 906.8h27.8M161.8 892.9v27.8M151.7 906.8h27.8M165.6 892.9v27.8M155.5 906.8h27.8M169.4 892.9v27.8M159.3 906.8h27.8M173.2 892.9v27.8M163.1 906.8h27.8M177 892.9v27.8M166.8 906.8h27.8M180.7 892.9v27.8M170.6 906.8h27.8M184.5 892.9v27.8M174.4 906.8h27.8M188.3 892.9v27.8M178.2 906.8h27.8M192.1 892.9v27.8M182 906.8h27.8M195.9 892.9v27.8M185.7 906.8h27.8M199.6 892.9v27.8M189.5 906.8h27.8M203.4 892.9v27.8M193.3 906.8h27.8M207.2 892.9v27.8M197.1 906.8h27.8M211 892.9v27.8M200.9 906.8h27.8M214.8 892.9v27.8M204.6 906.8h27.8M218.5 892.9v27.8M208.4 906.8h27.8M222.3 892.9v27.8M212.2 906.8h27.8M226.1 892.9v27.8M216 906.8h27.8M229.9 892.9v27.8M219.8 906.8h27.8M233.7 892.9v27.8M223.5 906.8h27.8M237.4 892.9v27.8M227.3 906.8h27.8M241.2 892.9v27.8M231.1 906.8h27.8M245 892.9v27.8M234.9 906.8h27.8M248.8 892.9v27.8M238.7 906.8h27.8M252.6 892.9v27.8M242.4 906.8h27.8M256.3 892.9v27.8M246.2 906.8h27.8M260.1 892.9v27.8M250 906.8h27.8M263.9 892.9v27.8M253.8 906.8h27.8M267.7 892.9v27.8M257.5 906.8h27.8M271.4 892.9v27.8M261.3 906.8h27.8M275.2 892.9v27.8M265.1 906.8h27.8M279 892.9v27.8M268.9 906.8h27.8M282.8 892.9v27.8M272.7 906.8h27.8M286.6 892.9v27.8M276.4 906.8h27.8M290.3 892.9v27.8M280.2 906.8h27.8M294.1 892.9v27.8M284 906.8h27.8M297.9 892.9v27.8M287.8 906.8h27.8M301.7 892.9v27.8M291.6 906.8h27.8M305.5 892.9v27.8M295.3 906.8h27.8M309.2 892.9v27.8M299.1 906.8h27.8M313 892.9v27.8M302.9 906.8h27.8M316.8 892.9v27.8M306.7 906.8h27.8M320.6 892.9v27.8M310.5 906.8h27.8M324.4 892.9v27.8M314.2 906.8h27.8M328.1 892.9v27.8M318 906.8h27.8M331.9 892.9v27.8M321.8 906.8h27.8M335.7 892.9v27.8M325.6 906.8h27.8M339.5 892.9v27.8M329.4 906.8h27.8M343.3 892.9v27.8M333.1 906.8h27.8M347 892.9v27.8M336.9 906.8h27.8M350.8 892.9v27.8M340.7 906.8h27.8M354.6 892.9v27.8M344.5 906.8h27.8M358.4 892.9v27.8M348.3 906.8h27.8M362.2 892.9v27.8M352 906.8h27.8M365.9 892.9v27.8M355.8 906.8h27.8M369.7 892.9v27.8M359.6 906.8h27.8M373.5 892.9v27.8M363.4 906.8h27.8M377.3 892.9v27.8M367.2 906.8h27.8M381.1 892.9v27.8M370.9 906.8h27.8M384.8 892.9v27.8M374.7 906.8h27.8M388.6 892.9v27.8M378.5 906.8h27.8M392.4 892.9v27.8M382.3 906.8h27.8M396.2 892.9v27.8M386 906.8h27.8M399.9 892.9v27.8M389.8 906.8h27.8M403.7 892.9v27.8M393.6 906.8h27.8M407.5 892.9v27.8M397.4 906.8h27.8M411.3 892.9v27.8M401.2 906.8h27.8M415.1 892.9v27.8M404.9 906.8h27.8M418.8 892.9v27.8M408.7 906.8h27.8M422.6 892.9v27.8M412.5 906.8h27.8M426.4 892.9v27.8M416.3 906.8h27.8M430.2 892.9v27.8M420.1 906.8h27.8M434 892.9v27.8M423.8 906.8h27.8M437.7 892.9v27.8M427.6 906.8h27.8M441.5 892.9v27.8M431.4 906.8h27.8M445.3 892.9v27.8M435.2 906.8h27.8M449.1 892.9v27.8M439 906.8h27.8M452.9 892.9v27.8M442.7 906.8h27.8M456.6 892.9v27.8M446.5 906.8h27.8M460.4 892.9v27.8M450.3 906.8h27.8M464.2 892.9v27.8M454.1 906.8h27.8M468 892.9v27.8M457.9 906.8h27.8M471.8 892.9v27.8M461.6 906.8h27.8M475.5 892.9v27.8M465.4 906.8h27.8M479.3 892.9v27.8M469.2 906.8h27.8M483.1 892.9v27.8M473 906.8h27.8M486.9 892.9v27.8M476.8 906.8h27.8M490.7 892.9v27.8M480.5 906.8h27.8M494.4 892.9v27.8M484.3 906.8h27.8M498.2 892.9v27.8M488.1 906.8h27.8M502 892.9v27.8M491.9 906.8h27.8M505.8 892.9v27.8M495.6 906.8h27.8M509.5 892.9v27.8M499.4 906.8h27.8M513.3 892.9v27.8M503.2 906.8h27.8M517.1 892.9v27.8M507 906.8h27.8M520.9 892.9v27.8M510.8 906.8h27.8M524.7 892.9v27.8M514.5 906.8h27.8M528.4 892.9v27.8M518.3 906.8h27.8M532.2 892.9v27.8M522.1 906.8h27.8M536 892.9v27.8M525.9 906.8h27.8M539.8 892.9v27.8M529.7 906.8h27.8M543.6 892.9v27.8M533.4 906.8h27.8M547.3 892.9v27.8M537.2 906.8h27.8M551.1 892.9v27.8M541 906.8h27.8M554.9 892.9v27.8M544.8 906.8h27.8M558.7 892.9v27.8M548.6 906.8h27.8M562.5 892.9v27.8M552.3 906.8h27.8M566.2 892.9v27.8M556.1 906.8h27.8M570 892.9v27.8M559.9 906.8h27.8M573.8 892.9v27.8M563.7 906.8h27.8M577.6 892.9v27.8M567.5 906.8h27.8M581.4 892.9v27.8M571.2 906.8h27.8M585.1 892.9v27.8M575 906.8h27.8M588.9 892.9v27.8M578.8 906.8h27.8M592.7 892.9v27.8M582.6 906.8h27.8M596.5 892.9v27.8M586.4 906.8h27.8M600.3 892.9v27.8M590.1 906.8h27.8M604 892.9v27.8M593.9 891.9h27.8M607.8 878v27.8M597.7 891.9h27.8M611.6 878v27.8M601.5 891.9h27.8M615.4 878v27.8M605.2 891.9h27.8M619.1 878v27.8M609 891.9h27.8M622.9 878v27.8M612.8 891.9h27.8M626.7 878v27.8M616.6 891.9h27.8M630.5 878v27.8M620.4 891.9h27.8M634.3 878v27.8M624.1 891.9h27.8M638 878v27.8M627.9 891.9h27.8M641.8 878v27.8M631.7 891.9h27.8M645.6 878v27.8M635.5 891.9h27.8M649.4 878v27.8M639.3 891.9h27.8M653.2 878v27.8M643 891.9h27.8M656.9 878v27.8M646.8 891.9h27.8M660.7 878v27.8M650.6 891.9h27.8M664.5 878v27.8M654.4 891.9h27.8M668.3 878v27.8M658.2 891.9h27.8M672.1 878v27.8M661.9 891.9h27.8M675.8 878v27.8M665.7 891.9h27.8M679.6 878v27.8M669.5 891.9h27.8M683.4 878v27.8M673.3 891.9h27.8M687.2 878v27.8M677.1 891.9h27.8M691 878v27.8M680.8 876.9h27.8M694.7 863v27.8M684.6 876.9h27.8M698.5 863v27.8M688.4 876.9h27.8M702.3 863v27.8M692.2 876.9h27.8M706.1 863v27.8M696 876.9h27.8M709.9 863v27.8M699.7 876.9h27.8M713.6 863v27.8M703.5 876.9h27.8M717.4 863v27.8M707.3 876.9h27.8M721.2 863v27.8M711.1 876.9h27.8M725 863v27.8M714.8 876.9h27.8M728.7 863v27.8M718.6 876.9h27.8M732.5 863v27.8M722.4 876.9h27.8M736.3 863v27.8M726.2 862h27.8M740.1 848.1v27.8M730 862h27.8M743.9 848.1v27.8M733.7 862h27.8M747.6 848.1v27.8M737.5 862h27.8M751.4 848.1v27.8M741.3 862h27.8M755.2 848.1v27.8M745.1 862h27.8M759 848.1v27.8M748.9 862h27.8M762.8 848.1v27.8M752.6 862h27.8M766.5 848.1v27.8M756.4 847.1h27.8M770.3 833.2v27.8M760.2 847.1h27.8M774.1 833.2v27.8M764 847.1h27.8M777.9 833.2v27.8M767.8 847.1h27.8M781.7 833.2v27.8M771.5 847.1h27.8M785.4 833.2v27.8M775.3 847.1h27.8M789.2 833.2v27.8M779.1 832.1h27.8M793 818.2v27.8M782.9 832.1h27.8M796.8 818.2v27.8M786.7 832.1h27.8M800.6 818.2v27.8M790.4 832.1h27.8M804.3 818.2v27.8M794.2 832.1h27.8M808.1 818.2v27.8M798 817.2h27.8M811.9 803.3v27.8M801.8 817.2h27.8M815.7 803.3v27.8M805.6 817.2h27.8M819.5 803.3v27.8M809.3 817.2h27.8M823.2 803.3v27.8M813.1 817.2h27.8M827 803.3v27.8M816.9 802.3h27.8M830.8 788.4v27.8M820.7 802.3h27.8M834.6 788.4v27.8M824.4 802.3h27.8M838.3 788.4v27.8M828.2 787.4h27.8M842.1 773.5v27.8M832 787.4h27.8M845.9 773.5v27.8M835.8 787.4h27.8M849.7 773.5v27.8M839.6 787.4h27.8M853.5 773.5v27.8M843.3 772.4h27.8M857.2 758.5v27.8M847.1 772.4h27.8M861 758.5v27.8M850.9 772.4h27.8M864.8 758.5v27.8M854.7 757.5h27.8M868.6 743.6v27.8M858.5 757.5h27.8M872.4 743.6v27.8M862.2 757.5h27.8M876.1 743.6v27.8M866 742.6h27.8M879.9 728.7v27.8M869.8 742.6h27.8M883.7 728.7v27.8M873.6 742.6h27.8M887.5 728.7v27.8M877.4 727.6h27.8M891.3 713.7v27.8M881.1 727.6h27.8M895 713.7v27.8M884.9 727.6h27.8M898.8 713.7v27.8M888.7 712.7h27.8M902.6 698.8v27.8M892.5 712.7h27.8M906.4 698.8v27.8M896.3 712.7h27.8M910.2 698.8v27.8M900 697.8h27.8M913.9 683.9v27.8M903.8 697.8h27.8M917.7 683.9v27.8M907.6 682.8h27.8M921.5 668.9v27.8M911.4 682.8h27.8M925.3 668.9v27.8M915.2 667.9h27.8M929.1 654v27.8M918.9 667.9h27.8M932.8 654v27.8M922.7 653h27.8M936.6 639.1v27.8M926.5 653h27.8M940.4 639.1v27.8M930.3 638.1h27.8M944.2 624.2v27.8M934.1 638.1h27.8M948 624.2v27.8M937.8 623.1h27.8M951.7 609.2v27.8M941.6 623.1h27.8M955.5 609.2v27.8M945.4 608.2h27.8M959.3 594.3v27.8M949.2 608.2h27.8M963.1 594.3v27.8M952.9 593.3h27.8M966.8 579.4v27.8M956.7 578.3h27.8M970.6 564.4v27.8M960.5 578.3h27.8M974.4 564.4v27.8M964.3 563.4h27.8M978.2 549.5v27.8M968.1 563.4h27.8M982 549.5v27.8M971.8 548.5h27.8M985.7 534.6v27.8M975.6 548.5h27.8M989.5 534.6v27.8M979.4 533.5h27.8M993.3 519.6v27.8M983.2 518.6h27.8M997.1 504.7v27.8M987 518.6h27.8M1000.9 504.7v27.8M990.7 503.7h27.8M1004.6 489.8v27.8M994.5 488.8h27.8M1008.4 474.9v27.8M998.3 488.8h27.8M1012.2 474.9v27.8M1002.1 473.8h27.8M1016 459.9v27.8M1005.9 473.8h27.8M1019.8 459.9v27.8M1009.6 458.9h27.8M1023.5 445v27.8M1013.4 444h27.8M1027.3 430.1v27.8M1017.2 444h27.8M1031.1 430.1v27.8M1021 429h27.8M1034.9 415.1v27.8M1024.8 414.1h27.8M1038.7 400.2v27.8M1028.5 414.1h27.8M1042.4 400.2v27.8M1032.3 399.2h27.8M1046.2 385.3v27.8M1036.1 384.2h27.8M1050 370.4v27.8M1039.9 369.3h27.8M1053.8 355.4v27.8M1043.7 369.3h27.8M1057.6 355.4v27.8M1047.4 354.4h27.8M1061.3 340.5v27.8M1051.2 339.5h27.8M1065.1 325.6v27.8M1055 324.5h27.8M1068.9 310.6v27.8M1058.8 309.6h27.8M1072.7 295.7v27.8M1062.5 294.7h27.8M1076.4 280.8v27.8M1066.3 294.7h27.8M1080.2 280.8v27.8M1070.1 279.7h27.8M1084 265.8v27.8M1073.9 264.8h27.8M1087.8 250.9v27.8M1077.7 264.8h27.8M1091.6 250.9v27.8M1081.4 249.9h27.8M1095.3 236v27.8M1085.2 234.9h27.8M1099.1 221v27.8M1089 220h27.8M1102.9 206.1v27.8M1092.8 205.1h27.8M1106.7 191.2v27.8M1096.6 205.1h27.8M1110.5 191.2v27.8M1100.3 190.2h27.8M1114.2 176.3v27.8M1104.1 175.2h27.8M1118 161.3v27.8M1107.9 175.2h27.8M1121.8 161.3v27.8M1111.7 160.3h27.8M1125.6 146.4v27.8M1115.5 160.3h27.8M1129.4 146.4v27.8M1119.2 145.4h27.8M1133.1 131.5v27.8M1123 130.4h27.8M1136.9 116.5v27.8M1126.8 130.4h27.8M1140.7 116.5v27.8M1130.6 115.5h27.8M1144.5 101.6v27.8M1134.4 115.5h27.8M1148.3 101.6v27.8M1138.1 100.6h27.8M1152 86.7v27.8M1141.9 100.6h27.8M1155.8 86.7v27.8M1145.7 100.6h27.8M1159.6 86.7v27.8M1149.5 85.6h27.8M1163.4 71.7v27.8M1153.3 85.6h27.8M1167.2 71.7v27.8M1157 85.6h27.8M1170.9 71.7v27.8M1160.8 85.6h27.8M1174.7 71.7v27.8M1164.6 85.6h27.8M1178.5 71.7v27.8M1168.4 85.6h27.8M1182.3 71.7v27.8M1172.1 85.6h27.8M1186 71.7v27.8M1175.9 85.6h27.8M1189.8 71.7v27.8M1179.7 85.6h27.8M1193.6 71.7v27.8M1183.5 85.6h27.8M1197.4 71.7v27.8M1187.3 70.7h27.8M1201.2 56.8v27.8M1191 70.7h27.8M1204.9 56.8v27.8M1194.8 70.7h27.8M1208.7 56.8v27.8M1198.6 70.7h27.8M1212.5 56.8v27.8M1202.4 70.7h27.8M1216.3 56.8v27.8M1206.2 70.7h27.8M1220.1 56.8v27.8M1209.9 70.7h27.8M1223.8 56.8v27.8M1213.7 70.7h27.8M1227.6 56.8v27.8M1217.5 70.7h27.8M1231.4 56.8v27.8"/>
</g>
<rect x="115.7" y="28.8" width="273.7" height="96.4" fill="#fff" stroke="#000" stroke-width="1.9"/>
<path fill="none" stroke="#00f" stroke-width="1.9" d="M135 54.8H239.2M187.4 40.9v27.8M177.6 45l19.6 19.6M177.6 64.6l19.6 -19.6"/>
<path fill="none" stroke="#f00" stroke-width="1.9" d="M135 98.4H239.2M187.4 84.5v27.8"/>
<path fill="none" stroke="#000" stroke-width="1.9" d="M223.9 945.2L497.2 813M375 889.8L581.3 678.9M487.8 808.4L654.5 443.4M585.4 967L861.8 832.9M749 908.4L955.8 696.1M885.3 806.9L1052.6 441.9"/>
<path stroke="#000" stroke-width="1.9" fill="none" d="M287.1 726.2L340.8 883.8"/>
<path fill="#000" stroke="#000" stroke-width="0.6" stroke-linejoin="miter" d="M280.6 707.3L279.8 746L289.6 732.8L306.3 739.1Z"/>
<path stroke="#000" stroke-width="1.9" fill="none" d="M307.9 725.9L710.3 904.6"/>
<path fill="#000" stroke="#000" stroke-width="0.6" stroke-linejoin="miter" d="M289.6 717.8L327 721.5L311.6 725.2L316.7 745.7Z"/>
<path stroke="#000" stroke-width="1.9" fill="none" d="M404.4 628.1L484 777.2"/>
<path fill="#000" stroke="#000" stroke-width="0.6" stroke-linejoin="miter" d="M395 610.5L401.1 649.2L408 633.5L425.4 636.6Z"/>
<path stroke="#000" stroke-width="1.9" fill="none" d="M423.3 616.7L846.3 812.5"/>
<path fill="#000" stroke="#000" stroke-width="0.6" stroke-linejoin="miter" d="M405.2 608.3L444.6 611.7L429.4 619.6L433.2 636.9Z"/>
<path stroke="#000" stroke-width="1.9" fill="none" d="M522.7 450L576.4 607.8"/>
<path fill="#000" stroke="#000" stroke-width="0.6" stroke-linejoin="miter" d="M516.2 431.1L515.8 469.8L525.2 456L541.3 461.7Z"/>
<path stroke="#000" stroke-width="1.9" fill="none" d="M539.2 433.6L964 632.5"/>
<path fill="#000" stroke="#000" stroke-width="0.6" stroke-linejoin="miter" d="M521.1 425.1L559.5 428.9L544.4 436.8L548.2 453.8Z"/>
<text transform="translate(251.8 69.3) scale(0.9448 1)">SIMPLE</text>
<text transform="translate(251.8 112.2) scale(0.9448 1)">SRSS</text>
<text transform="translate(88.6 921.1) scale(0.9372 1)" text-anchor="end">0</text>
<text transform="translate(88.6 771.8) scale(0.9372 1)" text-anchor="end">10</text>
<text transform="translate(88.6 622.5) scale(0.9372 1)" text-anchor="end">20</text>
<text transform="translate(88.6 473.2) scale(0.9372 1)" text-anchor="end">30</text>
<text transform="translate(88.6 323.9) scale(0.9372 1)" text-anchor="end">40</text>
<text transform="translate(88.6 174.6) scale(0.9372 1)" text-anchor="end">50</text>
<text transform="translate(88.6 26.4) scale(0.9372 1)" text-anchor="end">60</text>
<text transform="translate(98.8 950.8) scale(0.9372 1)" text-anchor="middle">850</text>
<text transform="translate(287.8 950.8) scale(0.9372 1)" text-anchor="middle">900</text>
<text transform="translate(476.7 950.8) scale(0.9372 1)" text-anchor="middle">950</text>
<text transform="translate(665.7 950.8) scale(0.9372 1)" text-anchor="middle">1000</text>
<text transform="translate(854.7 950.8) scale(0.9372 1)" text-anchor="middle">1050</text>
<text transform="translate(1043.6 950.8) scale(0.9372 1)" text-anchor="middle">1100</text>
<text transform="translate(1234.4 950.8) scale(0.9372 1)" text-anchor="middle">1150</text>
<text transform="translate(665.6 990.9) scale(1.0617 1)" text-anchor="middle" style="font-size:32.9px">time (round)</text>
<text transform="translate(26.4 459.5) rotate(-90) scale(1.0617 1)" text-anchor="middle" style="font-size:32.9px">number of fault nodes</text>
<text transform="translate(172.5 699.7) scale(1.0468 1)" style="font-size:32.9px">tangent line 1</text>
<text transform="translate(270 598.8) scale(1.0468 1)" style="font-size:32.9px">tangent line 2</text>
<text transform="translate(354.1 414.2) scale(1.0468 1)" style="font-size:32.9px">tangent line 3</text>
</svg></body></html>
